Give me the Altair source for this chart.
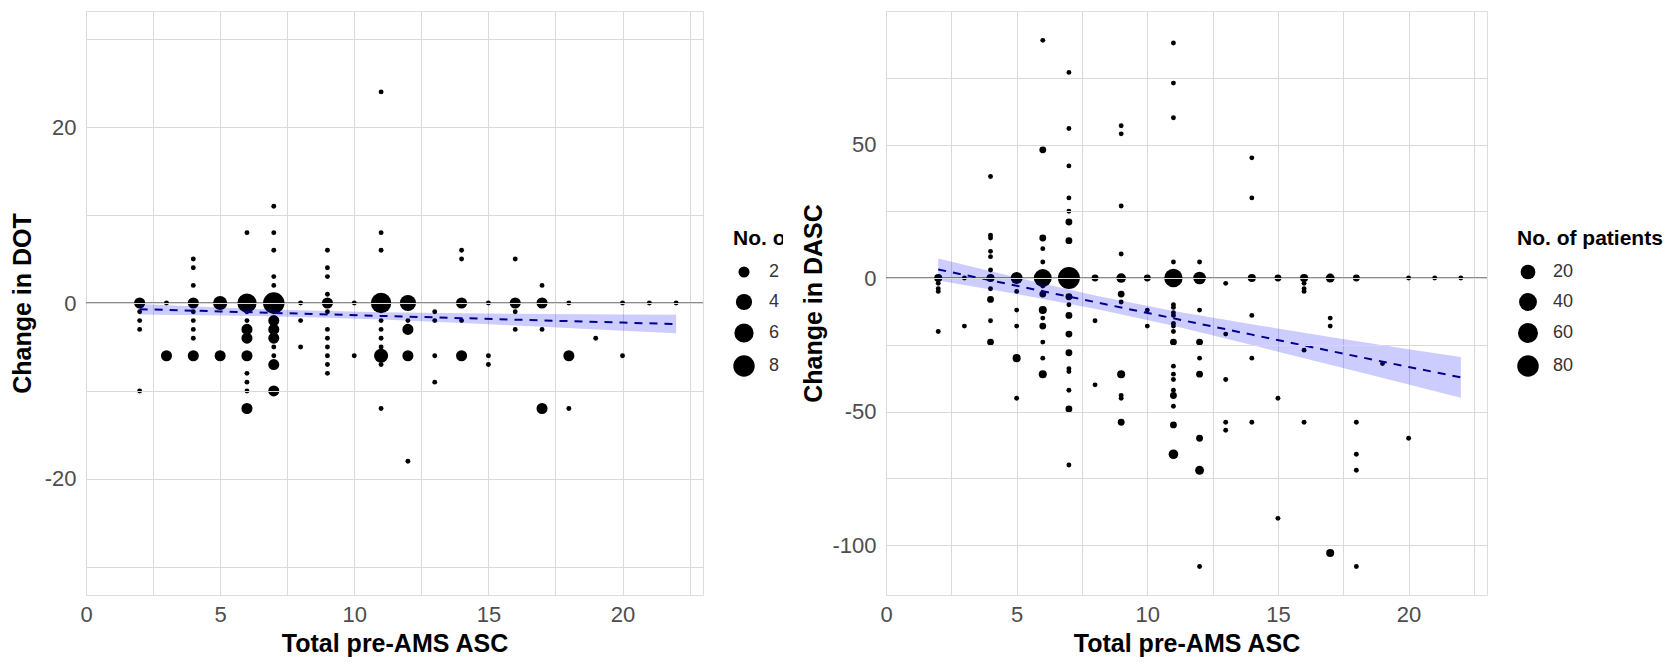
import altair as alt
import pandas as pd

# ---------------- Left panel: Change in DOT ----------------
dot_x = ([2]*5 + [3]*2 + [4]*9 + [5]*2 + [6]*11 + [7]*14 + [8]*3 + [9]*12 + [10]*2 +
         [11]*11 + [12]*5 + [13]*4 + [14]*5 + [15]*3 + [16]*4 + [17]*4 + [18]*3 +
         [19]*1 + [20]*2 + [21]*1 + [22]*1)
dot_y = ([0, -1, -2, -3, -10] +
         [0, -6] +
         [5, 4, 2, 0, -1, -2, -3, -4, -6] +
         [0, -6] +
         [8, 0, -1, -2, -3, -4, -6, -8, -9, -10, -12] +
         [11, 8, 6, 3, 2, 0, -1, -2, -3, -4, -5, -6, -7, -10] +
         [0, -2, -5] +
         [6, 4, 3, 1, 0, -1, -3, -4, -5, -6, -7, -8] +
         [0, -6] +
         [24, 8, 6, 0, -2, -3, -4, -5, -6, -7, -12] +
         [0, -2, -3, -6, -18] +
         [-1, -2, -6, -9] +
         [6, 5, 0, -2, -6] +
         [0, -6, -7] +
         [5, 0, -1, -3] +
         [2, 0, -3, -12] +
         [0, -6, -12] +
         [-4] +
         [0, -6] +
         [0] +
         [0])
dot_n = ([2, 1, 1, 1, 1] +
         [1, 2] +
         [1, 1, 1, 2, 1, 1, 1, 1, 2] +
         [3, 2] +
         [1, 6, 1, 1, 2, 2, 2, 1, 1, 1, 2] +
         [1, 1, 1, 1, 1, 8, 1, 2, 2, 2, 1, 1, 2, 2] +
         [1, 1, 1] +
         [1, 1, 1, 1, 2, 1, 1, 1, 1, 1, 1, 1] +
         [1, 1] +
         [1, 1, 1, 7, 1, 1, 1, 1, 3, 1, 1] +
         [4, 1, 2, 2, 1] +
         [1, 1, 1, 1] +
         [1, 1, 2, 1, 2] +
         [1, 1, 1] +
         [1, 2, 1, 1] +
         [1, 2, 1, 2] +
         [1, 2, 1] +
         [1] +
         [1, 1] +
         [1] +
         [1])

# regression line and confidence band
fit_x = [2, 5, 8, 11, 14, 17, 20, 22]
dot_fit = [-0.7, -0.96, -1.21, -1.47, -1.72, -1.98, -2.23, -2.4]
dot_lo = [-1.3, -1.41, -1.59, -1.89, -2.27, -2.70, -3.15, -3.45]
dot_hi = [-0.1, -0.51, -0.83, -1.05, -1.17, -1.26, -1.31, -1.35]

# ---------------- Right panel: Change in DASC ----------------
dasc_x = ([2]*5 + [3]*2 + [4]*11 + [5]*6 + [6]*14 + [7]*18 + [8]*3 + [9]*11 + [10]*3 +
          [11]*21 + [12]*9 + [13]*5 + [14]*6 + [15]*3 + [16]*6 + [17]*4 + [18]*5 +
          [19]*1 + [20]*2 + [21]*1 + [22]*1)
dasc_y = ([0, -2, -4, -5, -20] +
          [0, -18] +
          [38, 16, 15, 10, 8, 3, 0, -4, -8, -16, -24] +
          [0, -5, -12, -18, -30, -45] +
          [89, 48, 15, 11, 6, 0, -3, -6, -12, -15, -18, -24, -30, -36] +
          [77, 56, 42, 30, 25, 21, 14, 0, -7, -10, -14, -21, -28, -34, -35, -42, -49, -70] +
          [0, -16, -40] +
          [57, 54, 27, 9, 0, -6, -9, -36, -44, -45, -54] +
          [0, -12, -18] +
          [88, 73, 60, 6, 0, -10, -11, -13, -14, -17, -18, -20, -24, -33, -36, -38, -42, -44, -48, -55, -66] +
          [6, 0, -12, -24, -30, -36, -60, -72, -108] +
          [-2, -21, -38, -54, -57] +
          [45, 30, 0, -14, -30, -54] +
          [0, -45, -90] +
          [0, -2, -4, -5, -27, -54] +
          [0, -15, -18, -103] +
          [0, -54, -66, -72, -108] +
          [-32] +
          [0, -60] +
          [0] +
          [0])
dasc_n = ([3, 1, 1, 1, 1] +
          [1, 1] +
          [1, 1, 1, 1, 1, 1, 3, 1, 2, 1, 2] +
          [10, 1, 1, 1, 3, 1] +
          [1, 2, 2, 1, 1, 40, 1, 2, 3, 1, 2, 1, 1, 3] +
          [1, 1, 1, 1, 1, 2, 2, 85, 2, 1, 2, 2, 2, 1, 1, 1, 2, 1] +
          [2, 1, 1] +
          [1, 1, 1, 1, 5, 2, 1, 3, 1, 1, 2] +
          [2, 1, 1] +
          [1, 1, 1, 1, 45, 1, 1, 1, 1, 1, 1, 1, 2, 1, 1, 1, 1, 2, 1, 2, 5] +
          [1, 12, 1, 2, 1, 2, 2, 4, 1] +
          [1, 1, 1, 1, 1] +
          [1, 1, 3, 1, 1, 1] +
          [2, 1, 1] +
          [3, 1, 1, 1, 1, 1] +
          [4, 1, 1, 3] +
          [2, 1, 1, 1, 1] +
          [1] +
          [1, 1] +
          [1] +
          [1])

dasc_fit = [3.2, -2.9, -9.0, -15.1, -21.2, -27.3, -33.3, -37.2]
dasc_lo = [-0.9, -6.0, -11.5, -17.9, -25.1, -32.5, -39.9, -44.8]
dasc_hi = [7.3, 0.2, -6.5, -12.3, -17.3, -22.1, -26.7, -29.6]

x_ticks = [0, 2.5, 5, 7.5, 10, 12.5, 15, 17.5, 20, 22.5]
dot_ticks = [-30, -20, -10, 0, 10, 20, 30]
dasc_ticks = [-100, -75, -50, -25, 0, 25, 50, 75]

FONT = "Liberation Sans"
W_L, W_R, H = 617, 601, 584


def panel(px, py, pn, fy, flo, fhi, ydom, yticks, ylabel_step, ytitle, width,
          size_dom, size_rng, leg_vals, title_x, cover=False):
    pts = pd.DataFrame({"x": px, "y": py, "n": pn})
    fit = pd.DataFrame({"x": fit_x, "y": fy, "lo": flo, "hi": fhi})
    xs = alt.Scale(domain=[0, 23], nice=False, zero=False)
    ys = alt.Scale(domain=ydom, nice=False, zero=False)
    xaxis = alt.Axis(values=x_ticks, labelExpr="datum.value % 5 == 0 ? toString(datum.value) : ''",
                     ticks=False, domain=False, grid=True, gridColor="#d9d9d9", gridWidth=1,
                     labelFontSize=22, labelColor="#4d4d4d", labelFont=FONT, labelPadding=9,
                     titleFontSize=25, titleFont=FONT, titleFontWeight="bold", titleColor="black",
                     titleX=width / 2, titleY=36, titleBaseline="top", titleAlign="center",
                     labelFlush=False, labelOverlap=False)
    yaxis = alt.Axis(values=yticks,
                     labelExpr=f"datum.value % {ylabel_step} == 0 ? toString(datum.value) : ''",
                     ticks=False, domain=False, grid=True, gridColor="#d9d9d9", gridWidth=1,
                     labelFontSize=22, labelColor="#4d4d4d", labelFont=FONT, labelPadding=10,
                     titleFontSize=25, titleFont=FONT, titleFontWeight="bold", titleColor="black",
                     titleX=title_x, titleY=H / 2, titleBaseline="middle", titleAlign="center",
                     labelFlush=False, labelOverlap=False, zindex=1)
    X = lambda f: alt.X(f, type="quantitative", scale=xs, axis=xaxis, title="Total pre-AMS ASC")
    Y = lambda f: alt.Y(f, type="quantitative", scale=ys, axis=yaxis, title=ytitle)

    zero = alt.Chart(pd.DataFrame({"y": [0]})).mark_rule(color="#8c8c8c", strokeWidth=2).encode(
        y=Y("y"))
    points = alt.Chart(pts).mark_circle(color="black", opacity=1).encode(
        x=X("x"), y=Y("y"),
        size=alt.Size("n:Q",
                      scale=alt.Scale(type="sqrt", domain=size_dom, range=size_rng, zero=False),
                      legend=alt.Legend(title="No. of patients", values=leg_vals, orient="none",
                                        legendX=width + 30, legendY=217,
                                        titleFontSize=21, titleFont=FONT, titleFontWeight="bold",
                                        titleColor="black", titlePadding=14,
                                        labelFontSize=18, labelFont=FONT, labelColor="#333333",
                                        labelOffset=14, rowPadding=12,
                                        symbolType="circle", symbolFillColor="black",
                                        symbolStrokeWidth=0, symbolOpacity=1)))
    band = alt.Chart(fit).mark_area(color="#0000ff", opacity=0.2).encode(
        x=X("x"), y=Y("lo"), y2="hi")
    line = alt.Chart(fit).mark_line(color="#00008b", strokeWidth=2, strokeDash=[8, 7]).encode(
        x=X("x"), y=Y("y"))
    layers = [zero, points, band, line]
    if cover:
        rect = alt.Chart(pd.DataFrame({"a": [0]})).mark_rect(color="white").encode(
            x=alt.value(-103), x2=alt.value(0), y=alt.value(190), y2=alt.value(400))
        layers = [rect] + layers
    return alt.layer(*layers).properties(width=width, height=H)


left = panel(dot_x, dot_y, dot_n, dot_fit, dot_lo, dot_hi, [-33.2, 33.2], dot_ticks, 20,
             "Change in DOT", W_L, [1, 8], [24, 460], [2, 4, 6, 8], -64)
right = panel(dasc_x, dasc_y, dasc_n, dasc_fit, dasc_lo, dasc_hi, [-118.7, 100], dasc_ticks, 50,
              "Change in DASC", W_R, [1, 85], [24, 480], [20, 40, 60, 80], -73, cover=True)

chart = alt.hconcat(left, right, spacing=-98).resolve_scale(
    size="independent"
).resolve_legend(size="independent").properties(
    padding={"left": 9, "top": 10, "right": 0, "bottom": 0}
).configure_view(stroke="black", strokeWidth=2).configure(background="white")

chart.save("out.html", embed_options={"renderer": "svg", "actions": False})
